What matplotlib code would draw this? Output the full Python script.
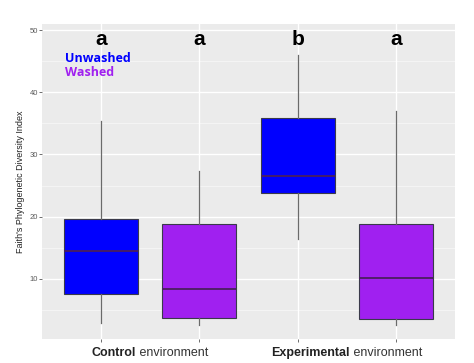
import matplotlib
matplotlib.use("Agg")
import matplotlib.pyplot as plt
import matplotlib.transforms as mtransforms
from matplotlib.offsetbox import TextArea, HPacker, AnnotationBbox

# Summary statistics
groups = ["Control Unwashed", "Control Washed", "Experimental Unwashed", "Experimental Washed"]
q1 = [7.6, 3.7, 23.8, 3.6]
med = [14.4, 8.4, 26.5, 10.1]
q3 = [19.6, 18.8, 35.8, 18.8]
whislo = [2.9, 2.6, 16.4, 2.5]
whishi = [35.4, 27.4, 46.0, 37.0]
letters = ["a", "a", "b", "a"]
fills = ["#0000FF", "#A020F0", "#0000FF", "#A020F0"]
env_labels = [("Control", " environment"), ("Experimental", " environment")]

plt.rcParams['font.family'] = ['Liberation Sans', 'DejaVu Sans']

fig = plt.figure(figsize=(4.74, 3.63), dpi=100)
ax = fig.add_axes([0.0886, 0.0661, 0.8713, 0.8678])
ax.set_facecolor("#EBEBEB")
for s in ax.spines.values():
    s.set_visible(False)

positions = [1, 2, 3, 4]
stats = []
for i in range(len(groups)):
    stats.append(dict(label=groups[i], q1=q1[i], med=med[i], q3=q3[i],
                      whislo=whislo[i], whishi=whishi[i], fliers=[]))

bp = ax.bxp(stats, positions=positions, widths=0.75, patch_artist=True,
            showcaps=False, showfliers=False,
            boxprops=dict(edgecolor="#3a3a4a", linewidth=0.8),
            medianprops=dict(color="#4a1f5e", linewidth=1.3),
            whiskerprops=dict(color="#6a6a6a", linewidth=0.9),
            zorder=3)
for patch, c in zip(bp['boxes'], fills):
    patch.set_facecolor(c)

ax.set_xlim(0.4, 4.6)
ax.set_ylim(0.3, 51)
ax.set_yticks([10, 20, 30, 40, 50])
ax.set_yticks([5, 15, 25, 35, 45], minor=True)
ax.set_xticks(positions)
ax.set_xticklabels([])
ax.grid(which="major", color="white", linewidth=1.0, zorder=0)
ax.grid(which="minor", axis="y", color="white", linewidth=0.5, alpha=0.7, zorder=0)
ax.set_axisbelow(True)
ax.tick_params(axis="both", which="major", length=2, width=0.6, color="#555555",
               labelsize=5.5, labelcolor="#5a5a5a", pad=1)
ax.tick_params(axis="y", which="minor", length=0)

ax.set_ylabel("Faith's Phylogenetic Diversity Index", fontsize=6.5, color="#222222", labelpad=3)

# significance letters
for x, t in zip(positions, letters):
    ax.text(x, 48.5, t, ha="center", va="center", fontsize=15, fontweight="bold", color="black")

# legend-like coloured labels
ax.text(0.055, 0.89, "Unwashed", transform=ax.transAxes, fontsize=9, fontweight="bold",
        color="#0000FF", family=["Open Sans", "DejaVu Sans"], va="center")
ax.text(0.055, 0.845, "Washed", transform=ax.transAxes, fontsize=9, fontweight="bold",
        color="#A020F0", family=["Open Sans", "DejaVu Sans"], va="center")

# environment labels with bold first word
trans = mtransforms.blended_transform_factory(ax.transData, ax.transAxes)
for xc, (bold, rest) in zip([1.5, 3.5], env_labels):
    box = HPacker(children=[
        TextArea(bold, textprops=dict(fontsize=9, fontweight="bold", color="#222222")),
        TextArea(rest, textprops=dict(fontsize=9, color="#333333"))],
        align="baseline", pad=0, sep=0)
    ab = AnnotationBbox(box, (xc, -0.045), xycoords=trans, frameon=False,
                        box_alignment=(0.5, 0.5), annotation_clip=False)
    ax.add_artist(ab)

fig.savefig("out.png", dpi=100)
